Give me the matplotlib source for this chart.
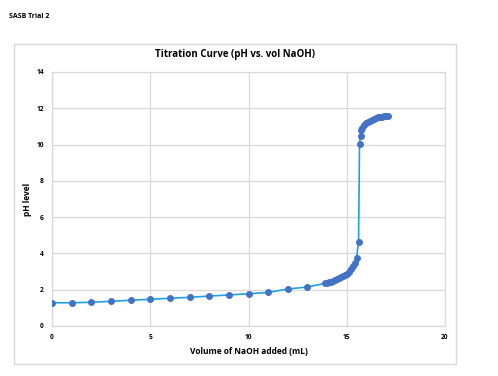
import matplotlib
matplotlib.use('Agg')
import matplotlib.pyplot as plt
from matplotlib.patches import Rectangle
import numpy as np

# volume of NaOH added (mL) and pH readings
vol_low = [0, 1, 2, 3, 4, 5, 6, 7, 8, 9, 10, 11, 12, 13]
ph_low = [1.28, 1.28, 1.31, 1.36, 1.42, 1.47, 1.53, 1.58, 1.65, 1.71, 1.78, 1.85, 2.04, 2.15]

vol_mid = [13.9, 14.0, 14.1, 14.2, 14.3, 14.4, 14.5, 14.6, 14.7, 14.8, 14.9,
           15.0, 15.1, 15.2, 15.3, 15.4, 15.5, 15.6]
ph_mid = [2.35, 2.38, 2.41, 2.45, 2.49, 2.53, 2.58, 2.63, 2.69, 2.75, 2.81,
          2.89, 2.99, 3.12, 3.28, 3.48, 3.75, 4.65]

vol_high = [15.65, 15.7, 15.75, 15.8, 15.9, 16.0, 16.1, 16.2, 16.3, 16.4,
            16.5, 16.6, 16.7, 16.8, 16.9, 17.0, 17.1]
ph_high = [10.03, 10.5, 10.8, 10.93, 11.06, 11.17, 11.25, 11.32, 11.38, 11.43,
           11.47, 11.5, 11.52, 11.54, 11.56, 11.57, 11.58]

vol = np.array(vol_low + vol_mid + vol_high)
ph = np.array(ph_low + ph_mid + ph_high)

plt.rcParams['font.family'] = ['Open Sans', 'DejaVu Sans']

fig = plt.figure(figsize=(4.98, 3.76), dpi=100)
fig.patches.append(Rectangle((13.5 / 498, 1 - 363.5 / 376), 442.5 / 498, 320 / 376,
                             transform=fig.transFigure, fill=False,
                             edgecolor='#d9d9d9', linewidth=1.0))
fig.text(9 / 498, 1 - 17 / 376, 'SASB Trial 2', fontsize=5, fontweight='bold', va='center')

ax = fig.add_axes([52 / 498, 1 - 326 / 376, 393 / 498, 254 / 376])
ax.plot(vol, ph, '-', color='#1da1e2', linewidth=1.2, zorder=2)
ax.plot(vol, ph, 'o', color='#4472c4', markersize=4.0, zorder=3)

ax.set_xlim(0, 20)
ax.set_ylim(0, 14)
ax.set_xticks([0, 5, 10, 15, 20])
ax.set_yticks(range(0, 15, 2))
ax.grid(True, color='#d9d9d9', linewidth=0.9)
ax.set_axisbelow(True)
for s in ax.spines.values():
    s.set_color('#d9d9d9')
    s.set_linewidth(0.9)
ax.tick_params(length=0, labelsize=4.8, pad=6)
for lab in ax.get_xticklabels() + ax.get_yticklabels():
    lab.set_fontweight('bold')

fig.text(235 / 498, 1 - 55 / 376, 'Titration Curve (pH vs. vol NaOH)', fontsize=7,
         fontweight='bold', ha='center', va='center')
ax.set_xlabel('Volume of NaOH added (mL)', fontsize=6, fontweight='bold', labelpad=4)
ax.set_ylabel('pH level', fontsize=6, fontweight='bold', labelpad=3)

fig.savefig('out.png', dpi=100)
